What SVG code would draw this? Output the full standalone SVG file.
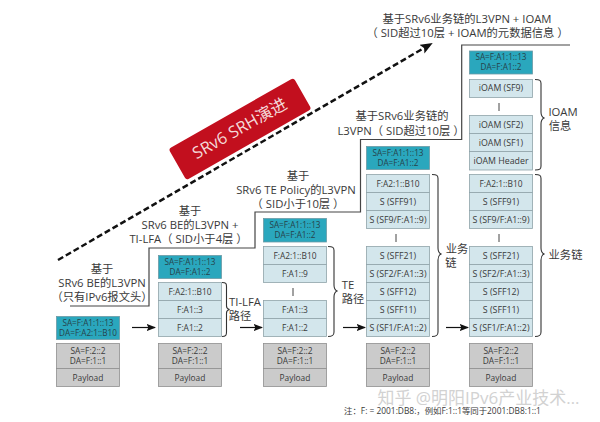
<svg xmlns="http://www.w3.org/2000/svg" width="600" height="422" viewBox="0 0 600 422">
<style>
text{font-family:"Open Sans","Noto Sans CJK SC",sans-serif;fill:#3a3a3a;text-anchor:middle}
.c{font-size:8.400px}
.q{font-size:8.200px;fill:#26424a}
.s{font-size:8.800px}
.l{font-size:11.300px}
.t{fill:#2aa7bd;stroke:#6b9aa5;stroke-width:.8}
.b{fill:#d3e6ec;stroke:#8fa3aa;stroke-width:.8}
.g{fill:#cbcbcb;stroke:#8f8f8f;stroke-width:.8}
.br{fill:none;stroke:#333;stroke-width:1.1}
.ln{fill:none;stroke:#444;stroke-width:1.2}
</style>
<defs>
<marker id="a" markerWidth="8" markerHeight="6" refX="7" refY="3" orient="auto"><path d="M0 0L8 3L0 6L1.500 3Z" fill="#111"/></marker>
<marker id="d" markerWidth="5" markerHeight="4" refX="4.200" refY="2" orient="auto"><path d="M0 0L5 2L0 4L1 2Z" fill="#111"/></marker>
</defs>
<g id="connectors">
<path class="ln" d="M70 306H149V248H255V212H360.500V139.500H461.700V45H570"/>
<path d="M58 260L431 44" fill="none" stroke="#111" stroke-width="2.500" stroke-dasharray="6 3" marker-end="url(#d)"/>
<path d="M132 327.500H155" stroke="#111" stroke-width="1.200" marker-end="url(#a)"/>
<path d="M240 327.500H262" stroke="#111" stroke-width="1.200" marker-end="url(#a)"/>
<path d="M343 327.500H365" stroke="#111" stroke-width="1.200" marker-end="url(#a)"/>
<path d="M446 327.500H468" stroke="#111" stroke-width="1.200" marker-end="url(#a)"/>
</g>
<g id="banner">
<rect x="168" y="111" width="144" height="36" rx="3" fill="#c20f1e" transform="rotate(-29.600 240 129)"/>
<text x="240" y="134" font-size="16.500" style="fill:#f4d9d9" transform="rotate(-29.600 240 129)">SRv6 SRH演进</text>
</g>
<g id="col1">
<rect class="t" x="56.500" y="316.500" width="63" height="23"/>
<text class="q" x="88" y="325.500">SA=F:A1:1::13</text><text class="q" x="88" y="335.500">DA=F:A2:1::B10</text>
<rect class="g" x="56.500" y="343.500" width="63" height="25"/><rect class="g" x="56.500" y="368.500" width="63" height="18"/>
<text class="c" x="88" y="354">SA=F:2::2</text><text class="c" x="88" y="364">DA=F:1::1</text><text class="c" x="88" y="380.500">Payload</text>
<text class="l" x="102" y="273">基于</text><text class="l" x="102" y="287">SRv6 BE的L3VPN</text><text class="l" x="102" y="301">（只有IPv6报文头）</text>
</g>
<g id="col2">
<rect class="t" x="158.500" y="255.500" width="63" height="23"/>
<text class="q" x="190" y="264.500">SA=F:A1:1::13</text><text class="q" x="190" y="274.500">DA=F:A1::2</text>
<rect class="b" x="158.500" y="282.500" width="63" height="18"/><rect class="b" x="158.500" y="300.500" width="63" height="18"/><rect class="b" x="158.500" y="318.500" width="63" height="18"/>
<text class="c" x="190" y="294.500">F:A2:1::B10</text><text class="c" x="190" y="312.500">F:A1::3</text><text class="c" x="190" y="330.500">F:A1::2</text>
<rect class="g" x="158.500" y="343.500" width="63" height="25"/><rect class="g" x="158.500" y="368.500" width="63" height="18"/>
<text class="c" x="190" y="354">SA=F:2::2</text><text class="c" x="190" y="364">DA=F:1::1</text><text class="c" x="190" y="380.500">Payload</text>
<path class="br" d="M222 282.500c4 0 4.500 1 4.500 4V306c0 2.500 1 3 3 3.500c-2 .5-3 1-3 3.500V332c0 3-.5 4.500-4.500 4.500"/>
<text class="l" x="190" y="215">基于</text><text class="l" x="190" y="229">SRv6 BE的L3VPN +</text><text class="l" x="188.500" y="243">TI-LFA（ SID小于4层 ）</text>
<text class="l" x="245" y="306">TI-LFA</text><text class="l" x="240" y="320">路径</text>
</g>
<g id="col3">
<rect class="t" x="263.500" y="218.500" width="63" height="23.500"/>
<text class="q" x="295" y="228">SA=F:A1:1::13</text><text class="q" x="295" y="238">DA=F:A1::2</text>
<rect class="b" x="263.500" y="246.500" width="63" height="18"/><rect class="b" x="263.500" y="264.500" width="63" height="18"/>
<text class="c" x="295" y="258.500">F:A2:1::B10</text><text class="c" x="295" y="276.500">F:A1::9</text>
<path d="M293 288V296" stroke="#444" stroke-width="1"/>
<rect class="b" x="263.500" y="300.500" width="63" height="18"/><rect class="b" x="263.500" y="318.500" width="63" height="18"/>
<text class="c" x="295" y="312.500">F:A1::3</text><text class="c" x="295" y="330.500">F:A1::2</text>
<rect class="g" x="263.500" y="343.500" width="63" height="25"/><rect class="g" x="263.500" y="368.500" width="63" height="18"/>
<text class="c" x="295" y="354">SA=F:2::2</text><text class="c" x="295" y="364">DA=F:1::1</text><text class="c" x="295" y="380.500">Payload</text>
<path class="br" d="M328 246.500c5 0 6 1 6 4V285c0 3.500 1 5 3 6c-2 1-3 2.500-3 6V332c0 3-1 4.500-6 4.500"/>
<text class="l" x="298" y="180">基于</text><text class="l" x="296" y="194">SRv6 TE Policy的L3VPN</text><text class="l" x="298" y="208">（ SID小于10层 ）</text>
<text class="l" x="348" y="289">TE</text><text class="l" x="353" y="303">路径</text>
</g>
<g id="col4">
<rect class="t" x="366.500" y="146.500" width="63" height="23"/>
<text class="q" x="398" y="155.500">SA=F:A1:1::13</text><text class="q" x="398" y="165.500">DA=F:A1::2</text>
<rect class="b" x="366.500" y="174.500" width="63" height="18"/><rect class="b" x="366.500" y="192.500" width="63" height="18"/><rect class="b" x="366.500" y="210.500" width="63" height="18"/>
<text class="c" x="398" y="186.500">F:A2:1::B10</text><text class="s" x="398" y="204.500">S (SFF91)</text><text class="s" x="398" y="222.500">S (SF9/F:A1::9)</text>
<path d="M396 234V242" stroke="#444" stroke-width="1"/>
<rect class="b" x="366.500" y="246.500" width="63" height="18"/><rect class="b" x="366.500" y="264.500" width="63" height="18"/><rect class="b" x="366.500" y="282.500" width="63" height="18"/><rect class="b" x="366.500" y="300.500" width="63" height="18"/><rect class="b" x="366.500" y="318.500" width="63" height="18"/>
<text class="s" x="398" y="258.500">S (SFF21)</text><text class="s" x="398" y="276.500">S (SF2/F:A1::3)</text><text class="s" x="398" y="294.500">S (SFF12)</text><text class="s" x="398" y="312.500">S (SFF11)</text><text class="s" x="398" y="330.500">S (SF1/F:A1::2)</text>
<rect class="g" x="366.500" y="343.500" width="63" height="25"/><rect class="g" x="366.500" y="368.500" width="63" height="18"/>
<text class="c" x="398" y="354">SA=F:2::2</text><text class="c" x="398" y="364">DA=F:1::1</text><text class="c" x="398" y="380.500">Payload</text>
<path class="br" d="M432 174.500c5 0 6 1 6 4V248c0 3.500 1 5 3 6c-2 1-3 2.500-3 6V332c0 3-1 4.500-6 4.500"/>
<text class="l" x="402" y="120">基于SRv6业务链的</text><text class="l" x="401" y="135">L3VPN（ SID超过10层 ）</text>
<text class="l" x="457" y="253">业务</text><text class="l" x="451" y="267">链</text>
</g>
<g id="col5">
<rect class="t" x="469.500" y="51" width="63" height="23"/>
<text class="q" x="501" y="60">SA=F:A1:1::13</text><text class="q" x="501" y="70">DA=F:A1::2</text>
<rect class="b" x="469.500" y="79.500" width="63" height="18"/>
<text class="s" x="501" y="91">iOAM (SF9)</text>
<path d="M499 103V111" stroke="#444" stroke-width="1"/>
<rect class="b" x="469.500" y="115.500" width="63" height="18"/><rect class="b" x="469.500" y="133.500" width="63" height="18"/><rect class="b" x="469.500" y="151.500" width="63" height="18.500"/>
<text class="s" x="501" y="127.500">iOAM (SF2)</text><text class="s" x="501" y="145.500">iOAM (SF1)</text><text class="s" x="501" y="163.500">iOAM Header</text>
<path class="br" d="M535 79.500c5 0 6 1 6 4V112c0 3.500 1 5 3 6c-2 1-3 2.500-3 6V166c0 3-1 4-6 4"/>
<text class="l" x="563" y="116">IOAM</text><text class="l" x="560" y="130">信息</text>
<rect class="b" x="469.500" y="174.500" width="63" height="18"/><rect class="b" x="469.500" y="192.500" width="63" height="18"/><rect class="b" x="469.500" y="210.500" width="63" height="18"/>
<text class="c" x="501" y="186.500">F:A2:1::B10</text><text class="s" x="501" y="204.500">S (SFF91)</text><text class="s" x="501" y="222.500">S (SF9/F:A1::9)</text>
<path d="M499 234V242" stroke="#444" stroke-width="1"/>
<rect class="b" x="469.500" y="246.500" width="63" height="18"/><rect class="b" x="469.500" y="264.500" width="63" height="18"/><rect class="b" x="469.500" y="282.500" width="63" height="18"/><rect class="b" x="469.500" y="300.500" width="63" height="18"/><rect class="b" x="469.500" y="318.500" width="63" height="18"/>
<text class="s" x="501" y="258.500">S (SFF21)</text><text class="s" x="501" y="276.500">S (SF2/F:A1::3)</text><text class="s" x="501" y="294.500">S (SFF12)</text><text class="s" x="501" y="312.500">S (SFF11)</text><text class="s" x="501" y="330.500">S (SF1/F:A1::2)</text>
<rect class="g" x="469.500" y="343.500" width="63" height="25"/><rect class="g" x="469.500" y="368.500" width="63" height="18"/>
<text class="c" x="501" y="354">SA=F:2::2</text><text class="c" x="501" y="364">DA=F:1::1</text><text class="c" x="501" y="380.500">Payload</text>
<path class="br" d="M535 174.500c5 0 6 1 6 4V248c0 3.500 1 5 3 6c-2 1-3 2.500-3 6V332c0 3-1 4.500-6 4.500"/>
<text class="l" x="565.500" y="259">业务链</text>
<text class="l" x="467" y="23">基于SRv6业务链的L3VPN + IOAM</text><text class="l" x="467.500" y="37">（ SID超过10层 + IOAM的元数据信息 ）</text>
</g>
<g id="notes">
<text x="478.500" y="403.500" font-size="17" style="fill:#d2d2d2">知乎 @明阳IPv6产业技术…</text>
<text x="442.500" y="414" font-size="8.400">注：F: = 2001:DB8:，例如F:1::1等同于2001:DB8:1::1</text>
</g>
</svg>
